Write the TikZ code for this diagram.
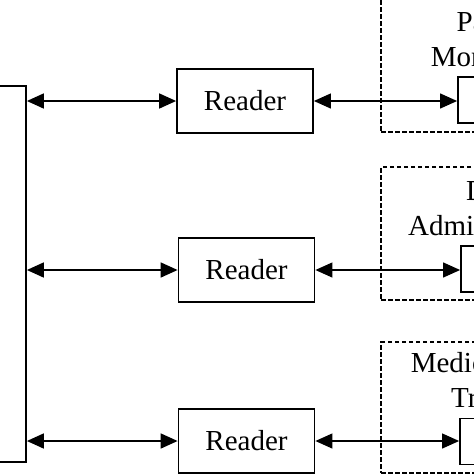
\documentclass[tikz,border=0pt]{standalone}
\usepackage{fontspec}
\setmainfont{Liberation Serif}
\usetikzlibrary{arrows.meta}

\begin{document}
\begin{tikzpicture}[x=1pt, y=-1pt,
    box/.style={draw, line width=1.8pt, inner sep=0pt},
    block/.style={box, minimum width=136pt, minimum height=64pt, font=\fontsize{29}{35}\selectfont},
    group/.style={draw, dash pattern=on 4.5pt off 2.5pt, line width=1.1pt, inner sep=0pt},
    tag/.style={inner sep=0pt, anchor=base, font=\fontsize{29}{35}\selectfont},
    biarrow/.style={{Triangle[length=17pt,width=15pt]}-{Triangle[length=17pt,width=15pt]}, line width=1.7pt},
    link/.style={biarrow, line width=1.2pt}]
    \useasboundingbox (0,0) rectangle (474,474);
    \clip (0,0) rectangle (474,474);

    % server on the left
    \node[box, minimum width=100pt, minimum height=376pt] (host) at (-24,274) {};

    % readers
    \node[block] (r1) at (245,101) {Reader};
    \node[block] (r2) at (246.5,270) {Reader};
    \node[block] (r3) at (246.5,441) {Reader};

    % application groups
    \node[group, minimum width=234pt, minimum height=133pt] (g1) at (498,65.5) {};
    \node[group, minimum width=234pt, minimum height=133pt] (g2) at (498,233.5) {};
    \node[group, minimum width=234pt, minimum height=131pt] (g3) at (498,407.5) {};

    \node[tag] (t1a) at (497,31) {Patient};
    \node[tag] (t1b) at (497,66) {Monitoring};
    \node[tag] (t2a) at (496,200) {Drug};
    \node[tag] (t2b) at (496,235) {Administration};
    \node[tag] (t3a) at (503,372) {Medical Device};
    \node[tag] (t3b) at (503,407) {Tracking};

    % devices
    \node[box, minimum width=80pt, minimum height=46pt] (s1) at (498,100) {};
    \node[box, minimum width=80pt, minimum height=46pt] (s2) at (501,269) {};
    \node[box, minimum width=80pt, minimum height=46pt] (s3) at (500,441.5) {};

    % links
    \draw[biarrow] (host.east |- r1.west) -- (r1.west);
    \draw[biarrow] (host.east |- r2.west) -- (r2.west);
    \draw[biarrow] (host.east |- r3.west) -- (r3.west);
    \draw[link] (r1.east) -- (r1.east -| s1.west);
    \draw[link] (r2.east) -- (r2.east -| s2.west);
    \draw[link] (r3.east) -- (r3.east -| s3.west);
\end{tikzpicture}
\end{document}
